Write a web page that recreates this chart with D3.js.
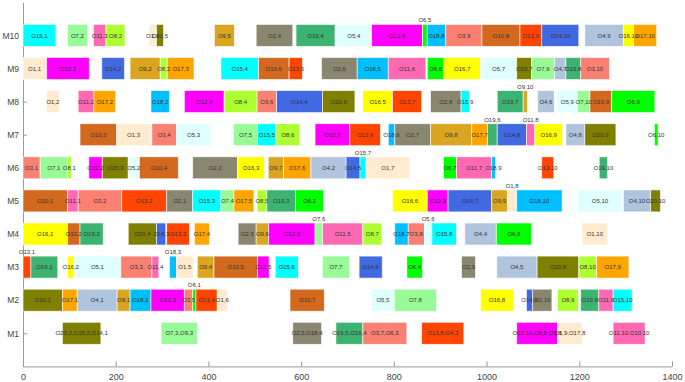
<!DOCTYPE html>
<html>
<head>
<meta charset="utf-8">
<script src="https://cdn.jsdelivr.net/npm/d3@7"></script>
<style>
  html, body { margin: 0; padding: 0; background: #fff; }
  svg { display: block; font-family: "Liberation Sans", Arial, sans-serif; }
</style>
</head>
<body>
<svg id="chart" width="685" height="382"></svg>
<script>
// ---------- data ----------
const machines = ["M1","M2","M3","M4","M5","M6","M7","M8","M9","M10"];
const xTicks = [0, 200, 400, 600, 800, 1000, 1200, 1400];

// [operation label, start, end]
const M10 = [["O15,1",0,71],["O7,2",96,139],["O11,3",152,179],["O8,2",179,220],["O1,4",272,287],["O20,5",288,303],["O9,5",413,456],["O2,4",503,582],["O19,4",589,673],["O5,4",675,752],["O12,8",752,862],["O6,5",862,872],["O18,8",872,912],["O3,9",912,990],["O10,8",990,1072],["O13,9",1072,1119],["O14,10",1119,1199],["O4,9",1212,1295],["O16,10",1295,1317],["O17,10",1317,1367]];
const M9 = [["O1,1",0,50],["O12,1",51,143],["O14,2",170,219],["O9,2",231,296],["O8,3",296,311],["O17,3",311,369],["O15,4",427,508],["O10,6",508,574],["O13,5",574,603],["O2,6",644,721],["O18,5",721,788],["O11,6",788,869],["O6,6",872,908],["O16,7",908,987],["O5,7",987,1065],["O20,7",1065,1097],["O7,9",1097,1147],["O4,7",1147,1171],["O19,8",1171,1203],["O3,10",1203,1265]];
const M8 = [["O1,2",51,78],["O11,2",119,153],["O17,2",153,200],["O18,2",276,316],["O12,4",348,434],["O8,4",434,505],["O3,6",505,547],["O14,4",547,646],["O20,6",646,716],["O16,5",733,797],["O13,7",797,860],["O2,8",879,945],["O15,9",945,963],["O19,7",1023,1079],["O9,10",1079,1088],["O4,6",1110,1146],["O5,9",1152,1196],["O7,10",1196,1223],["O10,9",1223,1270],["O6,9",1270,1363]];
const M7 = [["O10,3",123,202],["O1,3",202,275],["O3,4",278,331],["O5,3",331,405],["O7,5",454,506],["O15,5",506,546],["O8,6",546,597],["O12,7",630,705],["O13,6",705,771],["O18,6",788,802],["O2,7",802,879],["O9,8",879,968],["O17,7",968,1002],["O19,6",1002,1023],["O14,8",1023,1086],["O11,8",1086,1104],["O16,9",1104,1164],["O4,8",1171,1212],["O20,9",1212,1279],["O6,10",1362,1370]];
const M6 = [["O3,1",0,37],["O7,1",37,96],["O8,1",96,104],["O12,2",142,171],["O20,3",171,227],["O5,2",227,251],["O10,4",251,335],["O2,2",366,463],["O16,3",463,521],["O9,7",529,562],["O17,6",562,621],["O4,2",621,697],["O14,5",697,727],["O15,7",727,740],["O1,7",740,834],["O6,7",907,935],["O11,7",935,1011],["O18,9",1011,1019],["O13,10",1119,1145],["O19,10",1243,1261]];
const M5 = [["O10,1",0,96],["O11,1",96,119],["O3,2",119,213],["O13,2",213,310],["O2,1",310,366],["O15,3",366,427],["O7,4",427,455],["O17,5",455,498],["O8,5",505,526],["O19,3",526,588],["O6,2",588,648],["O16,6",797,872],["O12,9",872,917],["O14,7",917,1011],["O9,9",1011,1045],["O1,8",1045,1065],["O18,10",1065,1163],["O5,10",1196,1293],["O4,10",1295,1354],["O20,10",1354,1375]];
const M4 = [["O16,1",0,96],["O10,2",96,123],["O19,2",123,173],["O20,4",227,288],["O14,3",288,308],["O13,3",310,359],["O17,4",370,402],["O2,3",464,503],["O9,6",503,530],["O12,6",530,630],["O7,6",630,646],["O11,5",646,733],["O8,7",733,774],["O18,7",802,831],["O3,8",831,866],["O5,6",866,882],["O15,8",882,935],["O4,4",953,1021],["O6,8",1021,1097],["O1,10",1206,1261]];
const M3 = [["O13,1",0,17],["O19,1",17,75],["O16,2",96,110],["O5,1",110,211],["O3,3",211,278],["O11,4",278,293],["O18,3",316,331],["O1,5",331,367],["O9,4",376,412],["O10,5",412,506],["O12,5",506,531],["O15,6",544,594],["O7,7",646,704],["O14,6",725,775],["O6,4",828,862],["O2,9",946,976],["O4,5",1022,1109],["O20,8",1109,1199],["O8,10",1199,1237],["O17,9",1237,1307]];
const M2 = [["O20,1",0,85],["O17,1",85,117],["O4,1",117,203],["O9,1",203,231],["O18,1",231,276],["O12,3",276,348],["O3,5",348,366],["O6,1",366,373],["O13,4",373,419],["O1,6",419,441],["O10,7",576,650],["O5,5",752,801],["O7,8",801,892],["O16,8",987,1058],["O14,9",1086,1099],["O2,10",1099,1141],["O8,9",1153,1198],["O19,9",1203,1242],["O11,9",1242,1273],["O15,10",1273,1314]];
const M1 = [["O20,2,O15,2,O14,1",85,168],["O7,3,O9,3",298,376],["O2,5,O18,4",582,644],["O19,5,O16,4",675,733],["O3,7,O6,3",733,828],["O13,8,O4,3",860,951],["O12,10,O8,8,O5,8",1065,1153],["O1,9,O17,8",1153,1206],["O11,10,O10,10",1273,1342]];

// colour for job 1..20
const jobColors = ["#FFEBCD","#8A8770","#FA8072","#B0C4DE","#E0FFFF","#00FF00","#98FB98","#ADFF2F","#DAA520","#D2691E",
                   "#FF69B4","#FF00FF","#FF4500","#4169E1","#00FFFF","#FFFF00","#FFA500","#00BFFF","#3CB371","#808000"];
// labels drawn above their (narrow) bar
const raisedLabels = ["O6,5","O9,10","O19,6","O11,8","O15,7","O1,8","O7,6","O5,6","O13,1","O18,3","O6,1"];

// ---------- chart ----------
const rows = [M1,M2,M3,M4,M5,M6,M7,M8,M9,M10];
const ops = [];
rows.forEach((r, i) => r.forEach(d => ops.push({m: i + 1, label: d[0], start: d[1], end: d[2],
  job: +d[0].match(/^O(\d+)/)[1]})));

const svg = d3.select("#chart");
const x = d3.scaleLinear().domain([0, 1400]).range([23, 672]);
const y = d3.scaleLinear().domain([0, 11]).range([366.4, 2.3]);
const barH = 22;

// axes
const gx = svg.append("g").attr("transform", `translate(0,${y(0)})`)
  .call(d3.axisBottom(x).tickValues(xTicks).tickFormat(d3.format("d"))
        .tickSizeInner(-5).tickSizeOuter(0).tickPadding(7));
const gy = svg.append("g").attr("transform", `translate(${x(0)},0)`)
  .call(d3.axisLeft(y).tickValues(d3.range(1, 11)).tickFormat(i => machines[i - 1])
        .tickSizeInner(-4).tickSizeOuter(0).tickPadding(4));
[gx, gy].forEach(g => {
  g.select(".domain").attr("stroke", "#9a9a9a");
  g.selectAll(".tick line").attr("stroke", "#9a9a9a");
  g.selectAll(".tick text").attr("fill", "#444").style("font-size", "9px")
   .style("font-family", '"Liberation Sans", Arial, sans-serif');
});
gy.selectAll(".tick text").style("font-size", "8.5px");

// bars
svg.append("g").selectAll("rect").data(ops).join("rect")
  .attr("x", d => x(d.start))
  .attr("y", d => y(d.m) - barH / 2)
  .attr("width", d => x(d.end) - x(d.start))
  .attr("height", barH)
  .attr("fill", d => jobColors[d.job - 1])
  .attr("stroke", "rgba(255,255,255,0.75)")
  .attr("stroke-width", 0.8);

// labels
svg.append("g").selectAll("text").data(ops).join("text")
  .attr("x", d => x((d.start + d.end) / 2))
  .attr("y", d => raisedLabels.includes(d.label) ? y(d.m) - barH / 2 - 2 : y(d.m) + 2.1)
  .attr("text-anchor", "middle")
  .style("font-size", "6px")
  .attr("fill", "#333")
  .text(d => d.label);
</script>
</body>
</html>
